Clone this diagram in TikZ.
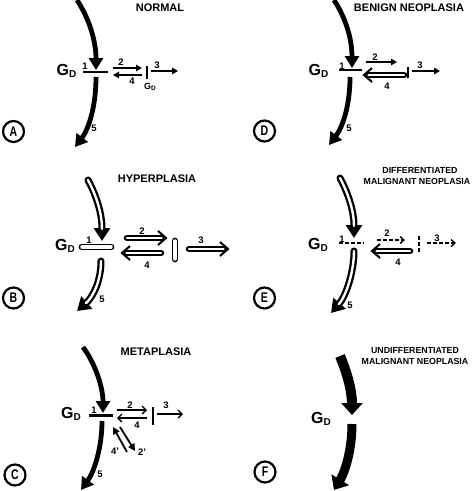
\documentclass[tikz,border=0pt]{standalone}
\usepackage{graphicx}
\usepackage{fontspec}
\setmainfont{Liberation Sans}
\usetikzlibrary{arrows.meta,calc}
\newcommand{\GDbig}{{\fontsize{16}{16}\selectfont G\raisebox{-2.5pt}{\fontsize{10}{10}\selectfont D}}}
\newcommand{\GDsmall}{{\fontsize{9}{9}\selectfont G\raisebox{-1.5pt}{\fontsize{6.5}{6.5}\selectfont D}}}
\newcommand{\pletter}[1]{\scalebox{0.75}[1]{\fontsize{14}{14}\selectfont #1}}
% hollow horizontal arrows: tail #1, tip #2
\newcommand{\dblR}[2]{\draw[dblshaft] (#1) -- ($(#2)+(-4.5,0)$);
  \draw[chev] ($(#2)+(-8,-7)$) -- (#2) -- ($(#2)+(-8,7)$);}
\newcommand{\dblL}[2]{\draw[dblshaft] (#1) -- ($(#2)+(4.5,0)$);
  \draw[chev] ($(#2)+(8,-7)$) -- (#2) -- ($(#2)+(8,7)$);}
\tikzset{
 lbl/.style={font=\bfseries\fontsize{9.5}{9.5}\selectfont, inner sep=0pt},
 ttl/.style={font=\bfseries\fontsize{11}{11}\selectfont, inner sep=0pt},
 ttls/.style={font=\bfseries\fontsize{8.8}{8.8}\selectfont, inner sep=0pt},
 gd/.style={inner sep=0pt, font=\bfseries},
 panel/.style={circle, draw, line width=2.2pt, minimum size=21pt, inner sep=0pt, font=\bfseries},
 solidarr/.style={line width=4.8pt, -{Triangle[length=12pt,width=14pt]}},
 hollowout/.style={line width=7pt, line cap=round, -{Triangle[length=13pt,width=16pt]}},
 hollowin/.style={line width=2.4pt, white, line cap=round, shorten >=12pt},
 thinarr/.style={line width=1.4pt, -{Triangle[length=6pt,width=6.5pt]}},
 openarr/.style={line width=1.3pt, -{Straight Barb[length=4pt,width=8pt]}},
 dasharr/.style={line width=1.3pt, dash pattern=on 3.5pt off 2.5pt, -{Straight Barb[length=4pt,width=7pt]}},
 dblshaft/.style={double, line width=2pt, double distance=2.6pt, line cap=round},
 chev/.style={line width=2pt, line join=miter, line cap=butt},
 pill/.style={double, line width=1.7pt, double distance=3.5pt, line cap=round},
 dsh/.style={line width=1.3pt, dash pattern=on 3.5pt off 2.5pt},
}
\begin{document}
\begin{tikzpicture}[x=1pt,y=-1pt]
\useasboundingbox (0,0) rectangle (474,491);
\fill[white] (0,0) rectangle (474,491);

% ---------------- Panel A: NORMAL
\node[ttl] (Attl) at (160,8) {NORMAL};
\node[gd] (Agd) at (66.5,71) {\GDbig};
\coordinate (Ats) at (77,0); \coordinate (Ate) at (96,70);
\draw[solidarr] (Ats) .. controls (90,20) and (96,42) .. (Ate);
\coordinate (Ab1) at (83,72); \coordinate (Ab2) at (108,72);
\draw[line width=2.5pt] (Ab1) -- (Ab2);
\coordinate (Abs) at (96,77); \coordinate (Abe) at (75,147);
\draw[solidarr] (Abs) .. controls (96,108) and (88,130) .. (Abe);
\coordinate (A2s) at (113,68); \coordinate (A2e) at (142,68);
\draw[thinarr] (A2s) -- (A2e);
\coordinate (A4s) at (142,75); \coordinate (A4e) at (113,75);
\draw[thinarr] (A4s) -- (A4e);
\coordinate (Av1) at (147,66); \coordinate (Av2) at (147,79);
\draw[line width=2pt] (Av1) -- (Av2);
\coordinate (A3s) at (151,71); \coordinate (A3e) at (178,71);
\draw[thinarr] (A3s) -- (A3e);
\node[gd] (Agds) at (150,87) {\GDsmall};
\node[lbl] (A1l) at (85,66) {1};
\node[lbl] (A2l) at (121,62) {2};
\node[lbl] (A4l) at (132,81) {4};
\node[lbl] (A3l) at (157,65) {3};
\node[lbl] (A5l) at (94,128) {5};
\node[panel] (Ac) at (13.5,131.5) {\pletter{A}};

% ---------------- Panel D: BENIGN NEOPLASIA
\node[ttl] (Dttl) at (409,8) {BENIGN NEOPLASIA};
\node[gd] (Dgd) at (318.5,71) {\GDbig};
\coordinate (Dts) at (334,0); \coordinate (Dte) at (352,68);
\draw[solidarr] (Dts) .. controls (347,20) and (352,41) .. (Dte);
\coordinate (Db1) at (339,70); \coordinate (Db2) at (362,70);
\draw[line width=1.3pt] (Db1) -- (Db2);
\coordinate (Dbs) at (350,77); \coordinate (Dbe) at (329,145);
\draw[solidarr] (Dbs) .. controls (350,107) and (342,128) .. (Dbe);
\coordinate (D2s) at (366,62); \coordinate (D2e) at (397,62);
\draw[thinarr] (D2s) -- (D2e);
\coordinate (D4s) at (404,75); \coordinate (D4e) at (364,75);
\dblL{D4s}{D4e}
\coordinate (Dv1) at (408,67); \coordinate (Dv2) at (408,78);
\draw[line width=1.5pt] (Dv1) -- (Dv2);
\coordinate (D3s) at (412,71); \coordinate (D3e) at (440,71);
\draw[thinarr] (D3s) -- (D3e);
\node[lbl] (D1l) at (342,66) {1};
\node[lbl] (D2l) at (375,57) {2};
\node[lbl] (D4l) at (387,86) {4};
\node[lbl] (D3l) at (420,65) {3};
\node[lbl] (D5l) at (349,128) {5};
\node[panel] (Dc) at (264.5,131) {\pletter{D}};

% ---------------- Panel B: HYPERPLASIA
\node[ttl] (Bttl) at (157,179) {HYPERPLASIA};
\node[gd] (Bgd) at (65,246) {\GDbig};
\coordinate (Bts) at (88,180); \coordinate (Bte) at (102,241);
\draw[hollowout] (Bts) .. controls (97,197) and (102,214) .. (Bte);
\draw[hollowin] (Bts) .. controls (97,197) and (102,214) .. (Bte);
\coordinate (Bb1) at (82,247); \coordinate (Bb2) at (111,247);
\draw[pill] (Bb1) -- (Bb2);
\coordinate (B2s) at (127,238); \coordinate (B2e) at (166,238);
\dblR{B2s}{B2e}
\coordinate (B4s) at (161,253); \coordinate (B4e) at (122,253);
\dblL{B4s}{B4e}
\coordinate (Bv1) at (175,241); \coordinate (Bv2) at (175,259);
\draw[pill] (Bv1) -- (Bv2);
\coordinate (B3s) at (189,249); \coordinate (B3e) at (228,249);
\dblR{B3s}{B3e}
\coordinate (Bbs) at (101,261); \coordinate (Bbe) at (77,311);
\draw[hollowout] (Bbs) .. controls (101,281) and (93,297) .. (Bbe);
\draw[hollowin] (Bbs) .. controls (101,281) and (93,297) .. (Bbe);
\node[lbl] (B1l) at (89,240) {1};
\node[lbl] (B2l) at (142,231) {2};
\node[lbl] (B4l) at (147,265) {4};
\node[lbl] (B3l) at (201,240) {3};
\node[lbl] (B5l) at (102,299) {5};
\node[panel] (Bc) at (13.5,298) {\pletter{B}};

% ---------------- Panel E: DIFFERENTIATED MALIGNANT NEOPLASIA
\node[ttls] (Ettl1) at (420,170) {DIFFERENTIATED};
\node[ttls] (Ettl2) at (417,181) {MALIGNANT NEOPLASIA};
\node[gd] (Egd) at (318,245) {\GDbig};
\coordinate (Ets) at (340,178); \coordinate (Ete) at (354,238);
\draw[hollowout] (Ets) .. controls (349,195) and (354,212) .. (Ete);
\draw[hollowin] (Ets) .. controls (349,195) and (354,212) .. (Ete);
\coordinate (Eb1) at (339,243); \coordinate (Eb2) at (364,243);
\draw[dsh] (Eb1) -- (Eb2);
\coordinate (E2s) at (377,240); \coordinate (E2e) at (405,240);
\draw[dasharr] (E2s) -- (E2e);
\coordinate (E4s) at (410,251); \coordinate (E4e) at (372,251);
\dblL{E4s}{E4e}
\coordinate (Ev1) at (419,236); \coordinate (Ev2) at (419,254);
\draw[dsh] (Ev1) -- (Ev2);
\coordinate (E3s) at (427,243); \coordinate (E3e) at (456,243);
\draw[dasharr] (E3s) -- (E3e);
\coordinate (Ebs) at (354,251); \coordinate (Ebe) at (331,313);
\draw[hollowout] (Ebs) .. controls (354,272) and (346,296) .. (Ebe);
\draw[hollowin] (Ebs) .. controls (354,272) and (346,296) .. (Ebe);
\node[lbl] (E1l) at (342,239) {1};
\node[lbl] (E2l) at (387,233) {2};
\node[lbl] (E4l) at (398,262) {4};
\node[lbl] (E3l) at (437,238) {3};
\node[lbl] (E5l) at (350,305) {5};
\node[panel] (Ec) at (264.5,298) {\pletter{E}};

% ---------------- Panel C: METAPLASIA
\node[ttl] (Cttl) at (156,352) {METAPLASIA};
\node[gd] (Cgd) at (71,414) {\GDbig};
\coordinate (Cts) at (83,347); \coordinate (Cte) at (103,413);
\draw[solidarr] (Cts) .. controls (96,365) and (103,388) .. (Cte);
\coordinate (Cb1) at (89,415); \coordinate (Cb2) at (113,415);
\draw[line width=3pt] (Cb1) -- (Cb2);
\coordinate (C2s) at (117,410); \coordinate (C2e) at (147,410);
\draw[openarr] (C2s) -- (C2e);
\coordinate (C4s) at (147,418); \coordinate (C4e) at (117,418);
\draw[openarr] (C4s) -- (C4e);
\coordinate (Cv1) at (153,407); \coordinate (Cv2) at (153,425);
\draw[line width=1.5pt] (Cv1) -- (Cv2);
\coordinate (C3s) at (157,414); \coordinate (C3e) at (183,414);
\draw[openarr] (C3s) -- (C3e);
\coordinate (C4ps) at (127,452); \coordinate (C4pe) at (113,427);
\draw[line width=1.8pt, -{Triangle[length=7pt,width=7pt]}] (C4ps) -- (C4pe);
\coordinate (C2ps) at (120,427); \coordinate (C2pe) at (135,451);
\draw[line width=1.8pt, -{Triangle[length=7pt,width=7pt]}] (C2ps) -- (C2pe);
\coordinate (Cbs) at (102,421); \coordinate (Cbe) at (81,490);
\draw[solidarr] (Cbs) .. controls (102,448) and (94,472) .. (Cbe);
\node[lbl] (C1l) at (94,410) {1};
\node[lbl] (C2l) at (130,405) {2};
\node[lbl] (C4l) at (137,425) {4};
\node[lbl] (C3l) at (166,405) {3};
\node[lbl] (C4pl) at (115,451) {4'};
\node[lbl] (C2pl) at (142,452) {2'};
\node[lbl] (C5l) at (100,474) {5};
\node[panel] (Cc) at (15,475) {\pletter{C}};

% ---------------- Panel F: UNDIFFERENTIATED MALIGNANT NEOPLASIA
\node[ttls] (Fttl1) at (415,351) {UNDIFFERENTIATED};
\node[ttls] (Fttl2) at (415,361) {MALIGNANT NEOPLASIA};
\node[gd] (Fgd) at (321,419) {\GDbig};
\coordinate (Fts) at (340,356); \coordinate (Fte) at (352,415);
\draw[line width=10pt, -{Triangle[length=12pt,width=21pt]}] (Fts) .. controls (348,375) and (352,392) .. (Fte);
\coordinate (Fbs) at (352,424); \coordinate (Fbe) at (334,490);
\draw[line width=9pt, -{Triangle[length=12pt,width=20pt]}] (Fbs) .. controls (352,450) and (345,472) .. (Fbe);
\node[panel] (Fc) at (265,472) {\pletter{F}};
\end{tikzpicture}
\end{document}
